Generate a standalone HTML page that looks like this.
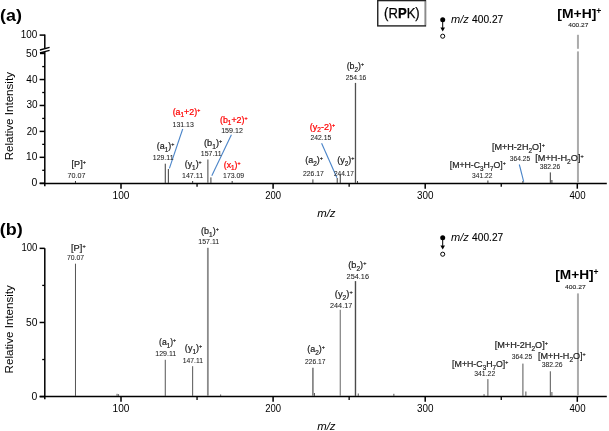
<!DOCTYPE html>
<html><head><meta charset="utf-8"><style>
html,body{margin:0;padding:0;background:#fff;width:609px;height:431px;overflow:hidden}
svg{display:block;font-family:"Liberation Sans", Arial, sans-serif}
</style></head><body>
<svg width="609" height="431" viewBox="0 0 609 431">
<rect width="609" height="431" fill="#fff"/>
<line x1="44.80" y1="34.40" x2="44.80" y2="48.20" stroke="#000" stroke-width="1.5" />
<line x1="44.80" y1="52.00" x2="44.80" y2="186.30" stroke="#000" stroke-width="1.5" />
<line x1="39.90" y1="50.00" x2="49.60" y2="47.40" stroke="#000" stroke-width="1.3" />
<line x1="39.90" y1="52.90" x2="49.60" y2="50.30" stroke="#000" stroke-width="1.3" />
<line x1="39.60" y1="183.25" x2="44.80" y2="183.25" stroke="#000" stroke-width="1.5" />
<line x1="39.60" y1="157.32" x2="44.80" y2="157.32" stroke="#000" stroke-width="1.5" />
<line x1="39.60" y1="131.40" x2="44.80" y2="131.40" stroke="#000" stroke-width="1.5" />
<line x1="39.60" y1="105.47" x2="44.80" y2="105.47" stroke="#000" stroke-width="1.5" />
<line x1="39.60" y1="79.54" x2="44.80" y2="79.54" stroke="#000" stroke-width="1.5" />
<line x1="42.20" y1="170.29" x2="44.80" y2="170.29" stroke="#000" stroke-width="1.3" />
<line x1="42.20" y1="144.36" x2="44.80" y2="144.36" stroke="#000" stroke-width="1.3" />
<line x1="42.20" y1="118.43" x2="44.80" y2="118.43" stroke="#000" stroke-width="1.3" />
<line x1="42.20" y1="92.51" x2="44.80" y2="92.51" stroke="#000" stroke-width="1.3" />
<line x1="42.20" y1="66.58" x2="44.80" y2="66.58" stroke="#000" stroke-width="1.3" />
<line x1="40.00" y1="53.20" x2="44.80" y2="53.20" stroke="#000" stroke-width="2.0" />
<line x1="39.60" y1="35.10" x2="44.80" y2="35.10" stroke="#000" stroke-width="1.5" />
<text transform="translate(13.2,116.2) rotate(-90)" font-size="11.6" text-anchor="middle" fill="#000">Relative Intensity</text>
<line x1="39.80" y1="183.40" x2="606.80" y2="183.40" stroke="#000" stroke-width="1.55" />
<line x1="121.00" y1="183.50" x2="121.00" y2="188.70" stroke="#000" stroke-width="1.5" />
<line x1="273.10" y1="183.50" x2="273.10" y2="188.70" stroke="#000" stroke-width="1.5" />
<line x1="425.20" y1="183.50" x2="425.20" y2="188.70" stroke="#000" stroke-width="1.5" />
<line x1="577.30" y1="183.50" x2="577.30" y2="188.70" stroke="#000" stroke-width="1.5" />
<line x1="197.05" y1="183.50" x2="197.05" y2="186.80" stroke="#000" stroke-width="1.3" />
<line x1="349.15" y1="183.50" x2="349.15" y2="186.80" stroke="#000" stroke-width="1.3" />
<line x1="501.25" y1="183.50" x2="501.25" y2="186.80" stroke="#000" stroke-width="1.3" />
<line x1="75.48" y1="181.00" x2="75.48" y2="183.00" stroke="#3a3a3a" stroke-width="1.0" />
<line x1="165.28" y1="163.70" x2="165.28" y2="183.00" stroke="#3a3a3a" stroke-width="1.0" />
<line x1="168.35" y1="169.00" x2="168.35" y2="183.00" stroke="#3a3a3a" stroke-width="1.0" />
<line x1="192.65" y1="181.00" x2="192.65" y2="183.00" stroke="#3a3a3a" stroke-width="1.0" />
<line x1="207.86" y1="159.40" x2="207.86" y2="183.00" stroke="#707070" stroke-width="1.3" />
<line x1="210.92" y1="177.40" x2="210.92" y2="183.00" stroke="#3a3a3a" stroke-width="1.0" />
<line x1="232.17" y1="181.00" x2="232.17" y2="183.00" stroke="#3a3a3a" stroke-width="1.0" />
<line x1="312.90" y1="179.40" x2="312.90" y2="183.00" stroke="#3a3a3a" stroke-width="1.0" />
<line x1="337.21" y1="178.00" x2="337.21" y2="183.00" stroke="#3a3a3a" stroke-width="1.0" />
<line x1="340.28" y1="174.50" x2="340.28" y2="183.00" stroke="#3a3a3a" stroke-width="1.0" />
<line x1="355.48" y1="82.90" x2="355.48" y2="183.00" stroke="#505050" stroke-width="1.3" />
<line x1="357.52" y1="181.00" x2="357.52" y2="183.00" stroke="#3a3a3a" stroke-width="1.0" />
<line x1="487.90" y1="180.50" x2="487.90" y2="183.00" stroke="#3a3a3a" stroke-width="1.0" />
<line x1="522.92" y1="181.00" x2="522.92" y2="183.00" stroke="#3a3a3a" stroke-width="1.0" />
<line x1="550.32" y1="172.40" x2="550.32" y2="183.00" stroke="#3a3a3a" stroke-width="1.0" />
<line x1="551.90" y1="180.00" x2="551.90" y2="183.00" stroke="#3a3a3a" stroke-width="1.0" />
<line x1="577.95" y1="34.80" x2="577.95" y2="48.80" stroke="#ababab" stroke-width="2.0" />
<line x1="577.95" y1="51.40" x2="577.95" y2="183.00" stroke="#ababab" stroke-width="2.0" />
<line x1="169.40" y1="168.40" x2="182.70" y2="129.00" stroke="#4a84c8" stroke-width="1.1" />
<line x1="211.80" y1="175.80" x2="231.40" y2="134.80" stroke="#4a84c8" stroke-width="1.1" />
<line x1="321.60" y1="143.20" x2="336.90" y2="177.80" stroke="#4a84c8" stroke-width="1.1" />
<line x1="519.30" y1="164.50" x2="523.70" y2="181.70" stroke="#4a84c8" stroke-width="1.1" />
<rect x="377.75" y="0.6" width="47.7" height="25.3" fill="#fff" stroke="#222" stroke-width="1.4"/>
<line x1="425.45" y1="1.20" x2="425.45" y2="25.20" stroke="#8a8a8a" stroke-width="1.3" />
<circle cx="442.7" cy="19.7" r="2.5" fill="#000"/>
<line x1="442.70" y1="21.70" x2="442.70" y2="27.90" stroke="#000" stroke-width="1" />
<path d="M440.40,27.50 L445.00,27.50 L442.70,31.60 Z" fill="#000"/>
<circle cx="442.7" cy="36.20" r="2.05" fill="#fff" stroke="#000" stroke-width="1"/>
<line x1="44.80" y1="248.30" x2="44.80" y2="399.20" stroke="#000" stroke-width="1.5" />
<line x1="39.60" y1="396.60" x2="44.80" y2="396.60" stroke="#000" stroke-width="1.5" />
<line x1="39.60" y1="322.48" x2="44.80" y2="322.48" stroke="#000" stroke-width="1.5" />
<line x1="39.60" y1="248.35" x2="44.80" y2="248.35" stroke="#000" stroke-width="1.5" />
<line x1="42.20" y1="359.54" x2="44.80" y2="359.54" stroke="#000" stroke-width="1.3" />
<line x1="42.20" y1="285.41" x2="44.80" y2="285.41" stroke="#000" stroke-width="1.3" />
<text transform="translate(12.6,329.3) rotate(-90)" font-size="11.6" text-anchor="middle" fill="#000">Relative Intensity</text>
<line x1="39.80" y1="396.50" x2="606.80" y2="396.50" stroke="#000" stroke-width="1.55" />
<line x1="121.00" y1="396.60" x2="121.00" y2="401.80" stroke="#000" stroke-width="1.5" />
<line x1="273.10" y1="396.60" x2="273.10" y2="401.80" stroke="#000" stroke-width="1.5" />
<line x1="425.20" y1="396.60" x2="425.20" y2="401.80" stroke="#000" stroke-width="1.5" />
<line x1="577.30" y1="396.60" x2="577.30" y2="401.80" stroke="#000" stroke-width="1.5" />
<line x1="197.05" y1="396.60" x2="197.05" y2="399.90" stroke="#000" stroke-width="1.3" />
<line x1="349.15" y1="396.60" x2="349.15" y2="399.90" stroke="#000" stroke-width="1.3" />
<line x1="501.25" y1="396.60" x2="501.25" y2="399.90" stroke="#000" stroke-width="1.3" />
<line x1="75.48" y1="263.70" x2="75.48" y2="396.00" stroke="#555" stroke-width="1.0" />
<line x1="117.05" y1="393.80" x2="117.05" y2="396.00" stroke="#555" stroke-width="1.0" />
<line x1="118.57" y1="394.20" x2="118.57" y2="396.00" stroke="#555" stroke-width="1.0" />
<line x1="165.28" y1="359.80" x2="165.28" y2="396.00" stroke="#555" stroke-width="1.0" />
<line x1="192.65" y1="366.20" x2="192.65" y2="396.00" stroke="#555" stroke-width="1.0" />
<line x1="207.86" y1="247.80" x2="207.86" y2="396.00" stroke="#8a8a8a" stroke-width="1.8" />
<line x1="220.63" y1="394.50" x2="220.63" y2="396.00" stroke="#555" stroke-width="1.0" />
<line x1="312.90" y1="367.70" x2="312.90" y2="396.00" stroke="#7a7a7a" stroke-width="1.6" />
<line x1="314.47" y1="393.00" x2="314.47" y2="396.00" stroke="#555" stroke-width="1.0" />
<line x1="340.28" y1="309.70" x2="340.28" y2="396.00" stroke="#808080" stroke-width="1.2" />
<line x1="355.48" y1="281.10" x2="355.48" y2="396.00" stroke="#4a4a4a" stroke-width="1.4" />
<line x1="358.28" y1="393.50" x2="358.28" y2="396.00" stroke="#555" stroke-width="1.0" />
<line x1="487.90" y1="379.10" x2="487.90" y2="396.00" stroke="#555" stroke-width="1.0" />
<line x1="522.92" y1="363.60" x2="522.92" y2="396.00" stroke="#555" stroke-width="1.0" />
<line x1="525.89" y1="391.50" x2="525.89" y2="396.00" stroke="#555" stroke-width="1.0" />
<line x1="550.32" y1="371.30" x2="550.32" y2="396.00" stroke="#555" stroke-width="1.0" />
<line x1="551.90" y1="392.00" x2="551.90" y2="396.00" stroke="#555" stroke-width="1.0" />
<line x1="393.87" y1="393.80" x2="393.87" y2="396.00" stroke="#555" stroke-width="1.0" />
<line x1="484.06" y1="394.20" x2="484.06" y2="396.00" stroke="#555" stroke-width="1.0" />
<line x1="577.95" y1="293.40" x2="577.95" y2="396.00" stroke="#ababab" stroke-width="2.0" />
<circle cx="442.7" cy="237.7" r="2.5" fill="#000"/>
<line x1="442.70" y1="239.70" x2="442.70" y2="245.90" stroke="#000" stroke-width="1" />
<path d="M440.40,245.50 L445.00,245.50 L442.70,249.60 Z" fill="#000"/>
<circle cx="442.7" cy="254.20" r="2.05" fill="#fff" stroke="#000" stroke-width="1"/>
<text x="-0.05" y="21.00" font-size="17" fill="#000" font-weight="bold" textLength="21.89" lengthAdjust="spacingAndGlyphs" >(a)</text>
<text x="71.57" y="167.00" font-size="9.0" fill="#222" textLength="14.34" lengthAdjust="spacingAndGlyphs" stroke="#222" stroke-width="0.2">[P]<tspan font-size="5.40" dy="-3.24">+</tspan></text>
<text x="67.59" y="178.00" font-size="6.6" fill="#222" textLength="17.97" lengthAdjust="spacingAndGlyphs" stroke="#333" stroke-width="0.06">70.07</text>
<text x="156.66" y="149.00" font-size="9.0" fill="#222" textLength="17.69" lengthAdjust="spacingAndGlyphs" stroke="#222" stroke-width="0.2">(a<tspan font-size="6.48" dy="2.52">1</tspan><tspan dy="-2.52">)</tspan><tspan font-size="5.40" dy="-3.24">+</tspan></text>
<text x="152.78" y="160.00" font-size="6.6" fill="#222" textLength="20.77" lengthAdjust="spacingAndGlyphs" stroke="#333" stroke-width="0.06">129.11</text>
<text x="172.67" y="115.00" font-size="8.8" fill="#ff0000" textLength="27.57" lengthAdjust="spacingAndGlyphs" stroke="#ff0000" stroke-width="0.22">(a<tspan font-size="6.34" dy="2.46">1</tspan><tspan dy="-2.46">+2)</tspan><tspan font-size="5.28" dy="-3.17">+</tspan></text>
<text x="172.52" y="127.00" font-size="6.6" fill="#222" textLength="21.28" lengthAdjust="spacingAndGlyphs" stroke="#333" stroke-width="0.06">131.13</text>
<text x="184.76" y="167.00" font-size="9.0" fill="#222" textLength="16.91" lengthAdjust="spacingAndGlyphs" stroke="#222" stroke-width="0.2">(y<tspan font-size="6.48" dy="2.52">1</tspan><tspan dy="-2.52">)</tspan><tspan font-size="5.40" dy="-3.24">+</tspan></text>
<text x="182.01" y="178.00" font-size="6.6" fill="#222" textLength="21.07" lengthAdjust="spacingAndGlyphs" stroke="#333" stroke-width="0.06">147.11</text>
<text x="204.05" y="146.00" font-size="9.0" fill="#222" textLength="18.24" lengthAdjust="spacingAndGlyphs" stroke="#222" stroke-width="0.2">(b<tspan font-size="6.48" dy="2.52">1</tspan><tspan dy="-2.52">)</tspan><tspan font-size="5.40" dy="-3.24">+</tspan></text>
<text x="200.74" y="156.00" font-size="6.6" fill="#222" textLength="20.91" lengthAdjust="spacingAndGlyphs" stroke="#333" stroke-width="0.06">157.11</text>
<text x="219.94" y="123.00" font-size="8.8" fill="#ff0000" textLength="27.71" lengthAdjust="spacingAndGlyphs" stroke="#ff0000" stroke-width="0.22">(b<tspan font-size="6.34" dy="2.46">1</tspan><tspan dy="-2.46">+2)</tspan><tspan font-size="5.28" dy="-3.17">+</tspan></text>
<text x="221.15" y="133.00" font-size="6.6" fill="#222" textLength="21.75" lengthAdjust="spacingAndGlyphs" stroke="#333" stroke-width="0.06">159.12</text>
<text x="223.78" y="168.00" font-size="8.8" fill="#ff0000" textLength="16.82" lengthAdjust="spacingAndGlyphs" stroke="#ff0000" stroke-width="0.22">(x<tspan font-size="6.34" dy="2.46">1</tspan><tspan dy="-2.46">)</tspan><tspan font-size="5.28" dy="-3.17">+</tspan></text>
<text x="223.10" y="178.00" font-size="6.6" fill="#222" textLength="21.08" lengthAdjust="spacingAndGlyphs" stroke="#333" stroke-width="0.06">173.09</text>
<text x="305.20" y="163.00" font-size="9.0" fill="#222" textLength="17.76" lengthAdjust="spacingAndGlyphs" stroke="#222" stroke-width="0.2">(a<tspan font-size="6.48" dy="2.52">2</tspan><tspan dy="-2.52">)</tspan><tspan font-size="5.40" dy="-3.24">+</tspan></text>
<text x="302.96" y="176.00" font-size="6.6" fill="#222" textLength="20.96" lengthAdjust="spacingAndGlyphs" stroke="#333" stroke-width="0.06">226.17</text>
<text x="337.17" y="163.00" font-size="9.0" fill="#222" textLength="17.39" lengthAdjust="spacingAndGlyphs" stroke="#222" stroke-width="0.2">(y<tspan font-size="6.48" dy="2.52">2</tspan><tspan dy="-2.52">)</tspan><tspan font-size="5.40" dy="-3.24">+</tspan></text>
<text x="333.93" y="176.00" font-size="6.6" fill="#222" textLength="19.91" lengthAdjust="spacingAndGlyphs" stroke="#333" stroke-width="0.06">244.17</text>
<text x="309.78" y="130.00" font-size="8.8" fill="#ff0000" textLength="25.48" lengthAdjust="spacingAndGlyphs" stroke="#ff0000" stroke-width="0.22">(y<tspan font-size="6.34" dy="2.46">2</tspan><tspan dy="-2.46">-2)</tspan><tspan font-size="5.28" dy="-3.17">+</tspan></text>
<text x="310.43" y="140.00" font-size="6.6" fill="#222" textLength="20.79" lengthAdjust="spacingAndGlyphs" stroke="#333" stroke-width="0.06">242.15</text>
<text x="346.70" y="69.00" font-size="9.0" fill="#222" textLength="17.40" lengthAdjust="spacingAndGlyphs" stroke="#222" stroke-width="0.2">(b<tspan font-size="6.48" dy="2.52">2</tspan><tspan dy="-2.52">)</tspan><tspan font-size="5.40" dy="-3.24">+</tspan></text>
<text x="345.78" y="80.00" font-size="6.6" fill="#222" textLength="20.61" lengthAdjust="spacingAndGlyphs" stroke="#333" stroke-width="0.06">254.16</text>
<text x="449.72" y="168.00" font-size="9.0" fill="#222" textLength="55.98" lengthAdjust="spacingAndGlyphs" stroke="#222" stroke-width="0.2">[M+H-C<tspan font-size="6.48" dy="2.52">3</tspan><tspan dy="-2.52">H</tspan><tspan font-size="6.48" dy="2.52">7</tspan><tspan dy="-2.52">O]</tspan><tspan font-size="5.40" dy="-3.24">+</tspan></text>
<text x="472.08" y="178.00" font-size="6.6" fill="#222" textLength="20.30" lengthAdjust="spacingAndGlyphs" stroke="#333" stroke-width="0.06">341.22</text>
<text x="491.97" y="150.00" font-size="9.0" fill="#222" textLength="52.85" lengthAdjust="spacingAndGlyphs" stroke="#222" stroke-width="0.2">[M+H-2H<tspan font-size="6.48" dy="2.52">2</tspan><tspan dy="-2.52">O]</tspan><tspan font-size="5.40" dy="-3.24">+</tspan></text>
<text x="509.73" y="161.00" font-size="6.6" fill="#222" textLength="20.51" lengthAdjust="spacingAndGlyphs" stroke="#333" stroke-width="0.06">364.25</text>
<text x="535.22" y="161.00" font-size="9.0" fill="#222" textLength="48.51" lengthAdjust="spacingAndGlyphs" stroke="#222" stroke-width="0.2">[M+H-H<tspan font-size="6.48" dy="2.52">2</tspan><tspan dy="-2.52">O]</tspan><tspan font-size="5.40" dy="-3.24">+</tspan></text>
<text x="539.69" y="169.00" font-size="6.6" fill="#222" textLength="20.53" lengthAdjust="spacingAndGlyphs" stroke="#333" stroke-width="0.06">382.26</text>
<text x="557.33" y="18.00" font-size="13.4" fill="#000" font-weight="bold" textLength="44.09" lengthAdjust="spacingAndGlyphs" >[M+H]<tspan font-size="8.4" dy="-3.7">+</tspan></text>
<text x="568.23" y="27.00" font-size="6.2" fill="#222" textLength="20.18" lengthAdjust="spacingAndGlyphs" stroke="#222" stroke-width="0.1">400.27</text>
<text x="384.12" y="18.00" font-size="14.2" fill="#000" textLength="35.59" lengthAdjust="spacingAndGlyphs" stroke="#000" stroke-width="0.25">(R<tspan font-weight="bold">P</tspan>K)</text>
<text x="451.02" y="23.00" font-size="10.2" fill="#000" font-style="italic" textLength="17.85" lengthAdjust="spacingAndGlyphs" >m/z</text>
<text x="472.13" y="23.00" font-size="10.0" fill="#000" textLength="31.06" lengthAdjust="spacingAndGlyphs" stroke="#000" stroke-width="0.12">400.27</text>
<text x="-0.28" y="235.00" font-size="17" fill="#000" font-weight="bold" textLength="22.99" lengthAdjust="spacingAndGlyphs" >(b)</text>
<text x="71.01" y="251.00" font-size="9.0" fill="#222" textLength="14.66" lengthAdjust="spacingAndGlyphs" stroke="#222" stroke-width="0.2">[P]<tspan font-size="5.40" dy="-3.24">+</tspan></text>
<text x="66.96" y="260.00" font-size="6.6" fill="#222" textLength="17.14" lengthAdjust="spacingAndGlyphs" stroke="#333" stroke-width="0.06">70.07</text>
<text x="201.01" y="234.00" font-size="9.0" fill="#222" textLength="17.80" lengthAdjust="spacingAndGlyphs" stroke="#222" stroke-width="0.2">(b<tspan font-size="6.48" dy="2.52">1</tspan><tspan dy="-2.52">)</tspan><tspan font-size="5.40" dy="-3.24">+</tspan></text>
<text x="198.25" y="244.00" font-size="6.6" fill="#222" textLength="20.91" lengthAdjust="spacingAndGlyphs" stroke="#333" stroke-width="0.06">157.11</text>
<text x="159.10" y="345.00" font-size="9.0" fill="#222" textLength="17.00" lengthAdjust="spacingAndGlyphs" stroke="#222" stroke-width="0.2">(a<tspan font-size="6.48" dy="2.52">1</tspan><tspan dy="-2.52">)</tspan><tspan font-size="5.40" dy="-3.24">+</tspan></text>
<text x="155.23" y="356.00" font-size="6.6" fill="#222" textLength="21.00" lengthAdjust="spacingAndGlyphs" stroke="#333" stroke-width="0.06">129.11</text>
<text x="184.86" y="351.00" font-size="9.0" fill="#222" textLength="17.43" lengthAdjust="spacingAndGlyphs" stroke="#222" stroke-width="0.2">(y<tspan font-size="6.48" dy="2.52">1</tspan><tspan dy="-2.52">)</tspan><tspan font-size="5.40" dy="-3.24">+</tspan></text>
<text x="182.74" y="363.00" font-size="6.6" fill="#222" textLength="20.22" lengthAdjust="spacingAndGlyphs" stroke="#333" stroke-width="0.06">147.11</text>
<text x="307.16" y="352.00" font-size="9.0" fill="#222" textLength="17.77" lengthAdjust="spacingAndGlyphs" stroke="#222" stroke-width="0.2">(a<tspan font-size="6.48" dy="2.52">2</tspan><tspan dy="-2.52">)</tspan><tspan font-size="5.40" dy="-3.24">+</tspan></text>
<text x="305.06" y="364.00" font-size="6.6" fill="#222" textLength="20.54" lengthAdjust="spacingAndGlyphs" stroke="#333" stroke-width="0.06">226.17</text>
<text x="334.79" y="297.00" font-size="9.0" fill="#222" textLength="17.98" lengthAdjust="spacingAndGlyphs" stroke="#222" stroke-width="0.2">(y<tspan font-size="6.48" dy="2.52">2</tspan><tspan dy="-2.52">)</tspan><tspan font-size="5.40" dy="-3.24">+</tspan></text>
<text x="330.02" y="308.00" font-size="6.6" fill="#222" textLength="22.25" lengthAdjust="spacingAndGlyphs" stroke="#333" stroke-width="0.06">244.17</text>
<text x="348.28" y="268.00" font-size="9.0" fill="#222" textLength="18.08" lengthAdjust="spacingAndGlyphs" stroke="#222" stroke-width="0.2">(b<tspan font-size="6.48" dy="2.52">2</tspan><tspan dy="-2.52">)</tspan><tspan font-size="5.40" dy="-3.24">+</tspan></text>
<text x="346.60" y="279.00" font-size="6.6" fill="#222" textLength="22.40" lengthAdjust="spacingAndGlyphs" stroke="#333" stroke-width="0.06">254.16</text>
<text x="452.11" y="367.00" font-size="9.0" fill="#222" textLength="56.31" lengthAdjust="spacingAndGlyphs" stroke="#222" stroke-width="0.2">[M+H-C<tspan font-size="6.48" dy="2.52">3</tspan><tspan dy="-2.52">H</tspan><tspan font-size="6.48" dy="2.52">7</tspan><tspan dy="-2.52">O]</tspan><tspan font-size="5.40" dy="-3.24">+</tspan></text>
<text x="474.23" y="376.00" font-size="6.6" fill="#222" textLength="20.98" lengthAdjust="spacingAndGlyphs" stroke="#333" stroke-width="0.06">341.22</text>
<text x="494.69" y="348.00" font-size="9.0" fill="#222" textLength="53.26" lengthAdjust="spacingAndGlyphs" stroke="#222" stroke-width="0.2">[M+H-2H<tspan font-size="6.48" dy="2.52">2</tspan><tspan dy="-2.52">O]</tspan><tspan font-size="5.40" dy="-3.24">+</tspan></text>
<text x="511.73" y="359.00" font-size="6.6" fill="#222" textLength="20.51" lengthAdjust="spacingAndGlyphs" stroke="#333" stroke-width="0.06">364.25</text>
<text x="537.93" y="359.00" font-size="9.0" fill="#222" textLength="47.88" lengthAdjust="spacingAndGlyphs" stroke="#222" stroke-width="0.2">[M+H-H<tspan font-size="6.48" dy="2.52">2</tspan><tspan dy="-2.52">O]</tspan><tspan font-size="5.40" dy="-3.24">+</tspan></text>
<text x="541.67" y="367.00" font-size="6.6" fill="#222" textLength="20.80" lengthAdjust="spacingAndGlyphs" stroke="#333" stroke-width="0.06">382.26</text>
<text x="555.19" y="279.00" font-size="13.4" fill="#000" font-weight="bold" textLength="43.42" lengthAdjust="spacingAndGlyphs" >[M+H]<tspan font-size="8.4" dy="-3.7">+</tspan></text>
<text x="565.07" y="289.00" font-size="6.2" fill="#222" textLength="20.66" lengthAdjust="spacingAndGlyphs" stroke="#222" stroke-width="0.1">400.27</text>
<text x="451.02" y="241.00" font-size="10.2" fill="#000" font-style="italic" textLength="17.85" lengthAdjust="spacingAndGlyphs" >m/z</text>
<text x="472.13" y="241.00" font-size="10.0" fill="#000" textLength="31.06" lengthAdjust="spacingAndGlyphs" stroke="#000" stroke-width="0.12">400.27</text>
<text x="31.57" y="186.00" font-size="10.0" fill="#000" textLength="5.79" lengthAdjust="spacingAndGlyphs" >0</text>
<text x="26.08" y="160.00" font-size="10.0" fill="#000" textLength="11.27" lengthAdjust="spacingAndGlyphs" >10</text>
<text x="26.66" y="135.00" font-size="10.0" fill="#000" textLength="10.59" lengthAdjust="spacingAndGlyphs" >20</text>
<text x="26.46" y="108.00" font-size="10.0" fill="#000" textLength="11.14" lengthAdjust="spacingAndGlyphs" >30</text>
<text x="26.34" y="83.00" font-size="10.0" fill="#000" textLength="11.13" lengthAdjust="spacingAndGlyphs" >40</text>
<text x="25.95" y="57.00" font-size="10.0" fill="#000" textLength="11.44" lengthAdjust="spacingAndGlyphs" >50</text>
<text x="20.85" y="38.00" font-size="10.0" fill="#000" textLength="16.52" lengthAdjust="spacingAndGlyphs" >100</text>
<text x="31.57" y="400.00" font-size="10.0" fill="#000" textLength="5.79" lengthAdjust="spacingAndGlyphs" >0</text>
<text x="25.95" y="326.00" font-size="10.0" fill="#000" textLength="11.44" lengthAdjust="spacingAndGlyphs" >50</text>
<text x="21.43" y="251.00" font-size="10.0" fill="#000" textLength="15.83" lengthAdjust="spacingAndGlyphs" >100</text>
<text x="112.57" y="199.00" font-size="10.0" fill="#000" textLength="16.83" lengthAdjust="spacingAndGlyphs" >100</text>
<text x="112.57" y="412.00" font-size="10.0" fill="#000" textLength="16.83" lengthAdjust="spacingAndGlyphs" >100</text>
<text x="265.29" y="199.00" font-size="10.0" fill="#000" textLength="15.84" lengthAdjust="spacingAndGlyphs" >200</text>
<text x="265.29" y="412.00" font-size="10.0" fill="#000" textLength="15.84" lengthAdjust="spacingAndGlyphs" >200</text>
<text x="417.07" y="199.00" font-size="10.0" fill="#000" textLength="16.47" lengthAdjust="spacingAndGlyphs" >300</text>
<text x="417.07" y="412.00" font-size="10.0" fill="#000" textLength="16.47" lengthAdjust="spacingAndGlyphs" >300</text>
<text x="569.40" y="199.00" font-size="10.0" fill="#000" textLength="16.13" lengthAdjust="spacingAndGlyphs" >400</text>
<text x="569.40" y="412.00" font-size="10.0" fill="#000" textLength="16.13" lengthAdjust="spacingAndGlyphs" >400</text>
<text x="317.16" y="217.00" font-size="11.2" fill="#000" font-style="italic" textLength="18.36" lengthAdjust="spacingAndGlyphs" >m/z</text>
<text x="317.16" y="430.00" font-size="11.2" fill="#000" font-style="italic" textLength="18.36" lengthAdjust="spacingAndGlyphs" >m/z</text>
</svg>
</body></html>
